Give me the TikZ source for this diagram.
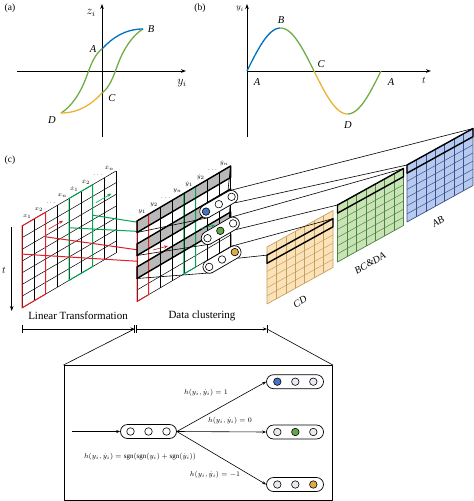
\documentclass[tikz,border=0pt]{standalone}
\usepackage{fontspec}
\setmainfont{Liberation Serif}
\usetikzlibrary{arrows.meta,shapes.misc,calc}
\definecolor{cblue}{RGB}{0,112,192}
\definecolor{cgreen}{RGB}{112,173,71}
\definecolor{cyel}{RGB}{232,180,50}
\definecolor{cred}{RGB}{228,30,38}
\definecolor{cgl}{RGB}{0,166,81}
\definecolor{cgray}{RGB}{185,185,185}
\definecolor{fyel}{RGB}{251,227,183}
\definecolor{lyel}{RGB}{196,160,100}
\definecolor{fgrn}{RGB}{200,228,180}
\definecolor{lgrn}{RGB}{80,130,70}
\definecolor{fblu}{RGB}{182,202,240}
\definecolor{lblu}{RGB}{60,80,140}
\definecolor{dblue}{RGB}{68,114,196}
\definecolor{dgreen}{RGB}{100,165,70}
\definecolor{dyel}{RGB}{222,172,70}
\definecolor{lightc}{RGB}{232,234,242}
\begin{document}
\begin{tikzpicture}[x=1pt,y=-1pt,line join=round,
  ax/.style={line width=0.8pt,-{Stealth[length=5pt,width=3.6pt]}},
  crv/.style={line width=1.3pt},
  ptl/.style={font=\fontsize{10.5}{12}\selectfont\itshape,inner sep=0pt},
  plab/.style={font=\fontsize{9.5}{11}\selectfont,inner sep=0pt},
  gl/.style={line width=0.5pt},
  hl/.style={line width=1pt},
  stripb/.style={line width=1.4pt},
  capsule/.style={rounded rectangle,draw,line width=0.7pt,fill=white,minimum width=42pt,minimum height=13pt,inner sep=0pt,rotate=30},
  bcap/.style={rounded rectangle,draw,line width=0.7pt,fill=white,minimum width=57pt,minimum height=14pt,inner sep=0pt},
  dotc/.style={circle,draw,line width=0.6pt,fill=white,minimum size=7.5pt,inner sep=0pt},
  glab/.style={font=\fontsize{6.5}{7}\selectfont,inner sep=0pt},
  hlab/.style={font=\fontsize{7}{8}\selectfont,inner sep=0pt},
  arr/.style={-{Stealth[length=4pt,width=3pt]},line width=0.6pt},
  thin/.style={line width=0.6pt},
  dimt/.style={font=\fontsize{11}{13}\selectfont,inner sep=0pt},
  glbl/.style={font=\fontsize{10}{12}\selectfont\itshape,inner sep=0pt,rotate=30}
]
\useasboundingbox (0,0) rectangle (474,501);

% ---------------- panel (a)
\node[plab] (pa) at (10,8) {(a)};
\coordinate (aL) at (17,71); \coordinate (aR) at (186,71);
\coordinate (aB) at (102,137); \coordinate (aT) at (102,4);
\draw[ax] (aL) -- (aR);
\draw[ax] (aB) -- (aT);
\node[inner sep=0pt,font=\fontsize{12}{13}\selectfont] (azl) at (91,13) {$z_i$};
\node[inner sep=0pt,font=\fontsize{12}{13}\selectfont] (ayl) at (182,83) {$y_i$};
\coordinate (pA) at (102,49); \coordinate (pB) at (143,29);
\coordinate (pC) at (102,93); \coordinate (pD) at (61,113);
\draw[crv,cgreen] (pB) .. controls (133,35) and (124,48) .. (118,64) .. controls (113,78) and (109,88) .. (pC);
\draw[crv,cgreen] (pD) .. controls (71,107) and (80,94) .. (86,78) .. controls (91,64) and (95,54) .. (pA);
\draw[crv,cblue] (pA) .. controls (112,38) and (125,29) .. (pB);
\draw[crv,cyel] (pD) .. controls (79,113) and (92,104) .. (pC);
\node[ptl] (lA) at (93,49) {A};
\node[ptl] (lB) at (151,29) {B};
\node[ptl] (lC) at (112,98) {C};
\node[ptl] (lD) at (52,120) {D};

% ---------------- panel (b)
\node[plab] (pb) at (200,8) {(b)};
\coordinate (bL) at (247,71); \coordinate (bR) at (431,71);
\coordinate (bB) at (247,137); \coordinate (bT) at (247,4);
\draw[ax] (bL) -- (bR);
\draw[ax] (bB) -- (bT);
\node[inner sep=0pt,font=\fontsize{8}{9}\selectfont] (byl) at (240,9) {$y_i$};
\node[inner sep=0pt,font=\fontsize{10}{11}\selectfont] (btl) at (424,80) {$t$};
\draw[crv,cblue] plot[domain=0:0.25,samples=25] ({247+134*\x},{71-43*sin(360*\x)});
\draw[crv,cgreen] plot[domain=0.25:0.5,samples=25] ({247+134*\x},{71-43*sin(360*\x)});
\draw[crv,cyel] plot[domain=0.5:0.75,samples=25] ({247+134*\x},{71-43*sin(360*\x)});
\draw[crv,cgreen] plot[domain=0.75:1,samples=25] ({247+134*\x},{71-43*sin(360*\x)});
\node[ptl] (qA) at (257,82) {A};
\node[ptl] (qB) at (281,20) {B};
\node[ptl] (qC) at (321,64) {C};
\node[ptl] (qD) at (348,125) {D};
\node[ptl] (qA2) at (391,82) {A};

% ---------------- panel (c)
\node[plab] (pc) at (10,160) {(c)};
\coordinate (tT) at (11.7,227); \coordinate (tB) at (11.7,311);
\draw[ax] (tT) -- (tB);
\node[inner sep=0pt,font=\fontsize{10}{11}\selectfont] (tl) at (4,270) {$t$};

% left grid
\coordinate (LG) at (22,226);
\begin{scope}[shift={(LG)},x={(11.75pt,6.875pt)},y={(0pt,-11.7pt)}]
  \fill[white] (0,0) -- (8,0) -- (8,7) -- (0,7) -- cycle;
  \foreach \i in {0,...,8} \draw[gl] (\i,0) -- (\i,7);
  \foreach \j in {0,...,7} \draw[gl] (0,\j) -- (8,\j);
  \draw[hl,cred] (0,0) -- (2,0) -- (2,7) -- (0,7) -- cycle;
  \draw[hl,cgl] (4,0) -- (6,0) -- (6,7) -- (4,7) -- cycle;
  \draw[arr,cred] (2.25,1.6) -- (3.5,1.6);
  \draw[arr,cgl] (6.3,1.7) -- (7.6,1.7);
  \foreach \k/\t in {1/{$x_1$},2/{$x_2$},3/{$\cdots$},4/{$x_n$},5/{$\dot{x}_1$},6/{$\dot{x}_2$},7/{$\cdots$},8/{$\dot{x}_n$}}
    \node[glab] (lx\k) at (\k-0.55,-0.55) {\t};
  \coordinate (Lr1) at (2,2.1);
  \coordinate (Lr2) at (0,2.4);
  \coordinate (Lg1) at (6,2.6);
  \coordinate (Lg2) at (4,2.5);
\end{scope}

% right grid
\coordinate (RG) at (137,221);
\begin{scope}[shift={(RG)},x={(11.7pt,6.875pt)},y={(0pt,-11.5pt)}]
  \coordinate (Rr1) at (0,2.5);
  \coordinate (Rr2) at (0,3.5);
  \coordinate (Rg1) at (0,0.1);
  \coordinate (Rg2) at (0,0.9);
  \coordinate (S1tr) at (8,0); \coordinate (S1bl) at (0,1);
  \coordinate (S2tr) at (8,2); \coordinate (S2bl) at (0,3);
  \coordinate (S3tr) at (8,4); \coordinate (S3bl) at (0,5);
\end{scope}
\draw[hl,cred] (Lr1) -- (Rr1);
\draw[hl,cred] (Lr2) -- (Rr2);
\draw[hl,cgl] (Lg1) -- (Rg1);
\draw[hl,cgl] (Lg2) -- (Rg2);
\begin{scope}[shift={(RG)},x={(11.7pt,6.875pt)},y={(0pt,-11.5pt)}]
  \fill[white] (0,0) -- (8,0) -- (8,7) -- (0,7) -- cycle;
  \foreach \s in {0,2,4} \fill[cgray] (0,\s) -- (8,\s) -- (8,\s+1) -- (0,\s+1) -- cycle;
  \foreach \i in {0,...,8} \draw[gl] (\i,0) -- (\i,7);
  \foreach \j in {0,...,7} \draw[gl] (0,\j) -- (8,\j);
  \draw[hl,cred] (0,0) -- (1,0) -- (1,7) -- (0,7) -- cycle;
  \draw[hl,cgl] (4,0) -- (5,0) -- (5,7) -- (4,7) -- cycle;
  \foreach \s in {0,2,4} \draw[stripb] (0,\s) -- (8,\s) -- (8,\s+1) -- (0,\s+1) -- cycle;
  \foreach \k/\t in {1/{$y_1$},2/{$y_2$},3/{$\cdots$},4/{$y_n$},5/{$\dot{y}_1$},6/{$\dot{y}_2$},7/{$\cdots$},8/{$\dot{y}_n$}}
    \node[glab] (ly\k) at (\k-0.55,-0.55) {\t};
\end{scope}
\draw[arr,cred] (153,250) -- (168,246);
\draw[arr,cgl] (200,229) -- (215,225);

% colored grids
\foreach \nm/\tx/\ty/\fc/\lc/\s in {CD/267/247/fyel/lyel/1,BC/337.5/205/fgrn/lgrn/0,AB/407/165/fblu/lblu/0}{
  \coordinate (\nm-o) at (\tx,\ty);
  \begin{scope}[shift={(\nm-o)},x={(9.43pt,5.214pt)},y={(0pt,-8.14pt)}]
    \fill[\fc] (0,0) -- (7,0) -- (7,7) -- (0,7) -- cycle;
    \foreach \i in {1,...,6} \draw[gl,\lc] (\i,0) -- (\i,7);
    \foreach \j in {1,...,6} \draw[gl,\lc] (0,\j) -- (7,\j);
    \draw[line width=0.7pt,\lc] (0,0) -- (7,0) -- (7,7) -- (0,7) -- cycle;
    \draw[stripb] (0,\s) -- (7,\s) -- (7,\s+1) -- (0,\s+1) -- cycle;
    \coordinate (\nm-stl) at (0,\s);
    \coordinate (\nm-str) at (7,\s);
  \end{scope}
}
\node[glbl] (tCD) at (300,302) {CD};
\node[glbl] (tBC) at (370,263) {BC\&DA};
\node[glbl] (tAB) at (438,222) {AB};

% callout lines strip -> capsule
\coordinate (K1) at (218.8,204.2);
\coordinate (K2) at (220.3,230.8);
\coordinate (K3) at (222,259.5);
\node[capsule,draw=none,fill=none] (cap1g) at (K1) {};
\node[capsule,draw=none,fill=none] (cap2g) at (K2) {};
\node[capsule,draw=none,fill=none] (cap3g) at (K3) {};
\draw[thin] (S1tr) -- (cap1g.north east);
\draw[thin] (S1bl) -- (cap1g.south west);
\draw[thin] (S2tr) -- (cap2g.north east);
\draw[thin] (S2bl) -- (cap2g.south west);
\draw[thin] (S3tr) -- (cap3g.north east);
\draw[thin] (S3bl) -- (cap3g.south west);
% capsule -> colored grid
\draw[thin] (cap1g.north east) -- (AB-str);
\draw[thin] (cap1g.south east) -- (AB-stl);
\draw[thin] (cap2g.north east) -- (BC-str);
\draw[thin] (cap2g.south east) -- (BC-stl);
\draw[thin] (cap3g.north east) -- (CD-str);
\draw[thin] (cap3g.south east) -- (CD-stl);
% capsules
\node[capsule] (cap1) at (K1) {};
\node[capsule] (cap2) at (K2) {};
\node[capsule] (cap3) at (K3) {};
\node[dotc,fill=dblue] (c1a) at ($(K1)+(-12.8,7.4)$) {};
\node[dotc] (c1b) at (K1) {};
\node[dotc] (c1c) at ($(K1)+(12.8,-7.4)$) {};
\node[dotc] (c2a) at ($(K2)+(-12.8,7.4)$) {};
\node[dotc,fill=dgreen] (c2b) at (K2) {};
\node[dotc] (c2c) at ($(K2)+(12.8,-7.4)$) {};
\node[dotc] (c3a) at ($(K3)+(-12.8,7.4)$) {};
\node[dotc] (c3b) at (K3) {};
\node[dotc,fill=dyel] (c3c) at ($(K3)+(12.8,-7.4)$) {};

% dimension line
\node[dimt] (tLT) at (78,316) {Linear Transformation};
\node[dimt] (tDC) at (202,316) {Data clustering};
\coordinate (d0) at (22,329); \coordinate (d1) at (134.5,329);
\coordinate (d2) at (136.5,329); \coordinate (d3) at (267,329);
\draw[thin] (22,325) -- (22,333);
\draw[thin] (134.5,325) -- (134.5,333);
\draw[thin] (136.5,325) -- (136.5,333);
\draw[thin] (267,325) -- (267,333);
\draw[arr] (d0) -- (d1);
\draw[arr] (d2) -- (d3);

% box
\node[draw,line width=1.3pt,minimum width=268pt,minimum height=135pt,anchor=north west,inner sep=0pt] (box) at (63.5,365) {};
\draw[thin] (d1) -- (box.north west);
\draw[thin] (d3) -- (box.north east);

\coordinate (inp) at (72,431.5);
\node[bcap,minimum width=56pt] (cm) at (148.5,431.5) {};
\node[dotc] (m1) at (130.5,431.5) {};
\node[dotc] (m2) at (148.5,431.5) {};
\node[dotc] (m3) at (166.5,431.5) {};
\draw[arr] (inp) -- (cm.west);

\node[bcap] (ct) at (295,381.7) {};
\node[dotc,fill=dblue] (t1) at (277.3,381.7) {};
\node[dotc,fill=lightc] (t2) at (295.3,381.7) {};
\node[dotc,fill=lightc] (t3) at (313.3,381.7) {};
\node[bcap] (cmo) at (295,432) {};
\node[dotc,fill=lightc] (o1) at (277.3,432) {};
\node[dotc,fill=dgreen] (o2) at (295.3,432) {};
\node[dotc,fill=lightc] (o3) at (313.3,432) {};
\node[bcap] (cb) at (295,484.5) {};
\node[dotc,fill=lightc] (b1) at (277.3,484.5) {};
\node[dotc,fill=lightc] (b2) at (295.3,484.5) {};
\node[dotc,fill=dyel] (b3) at (313.3,484.5) {};

\draw[arr] (cm.east) -- (ct.west);
\draw[arr] (cm.east) -- (cmo.west);
\draw[arr] (cm.east) -- (cb.west);

\node[hlab] (h1) at (206,393) {$h(y_i,\dot{y}_i)=1$};
\node[hlab] (h0) at (230,421) {$h(y_i,\dot{y}_i)=0$};
\node[hlab] (hm) at (215,475) {$h(y_i,\dot{y}_i)=-1$};
\node[hlab] (hf) at (140,457) {$h(y_i,\dot{y}_i)=\mathrm{sgn}(\mathrm{sgn}(y_i)+\mathrm{sgn}(\dot{y}_i))$};
\end{tikzpicture}
\end{document}
